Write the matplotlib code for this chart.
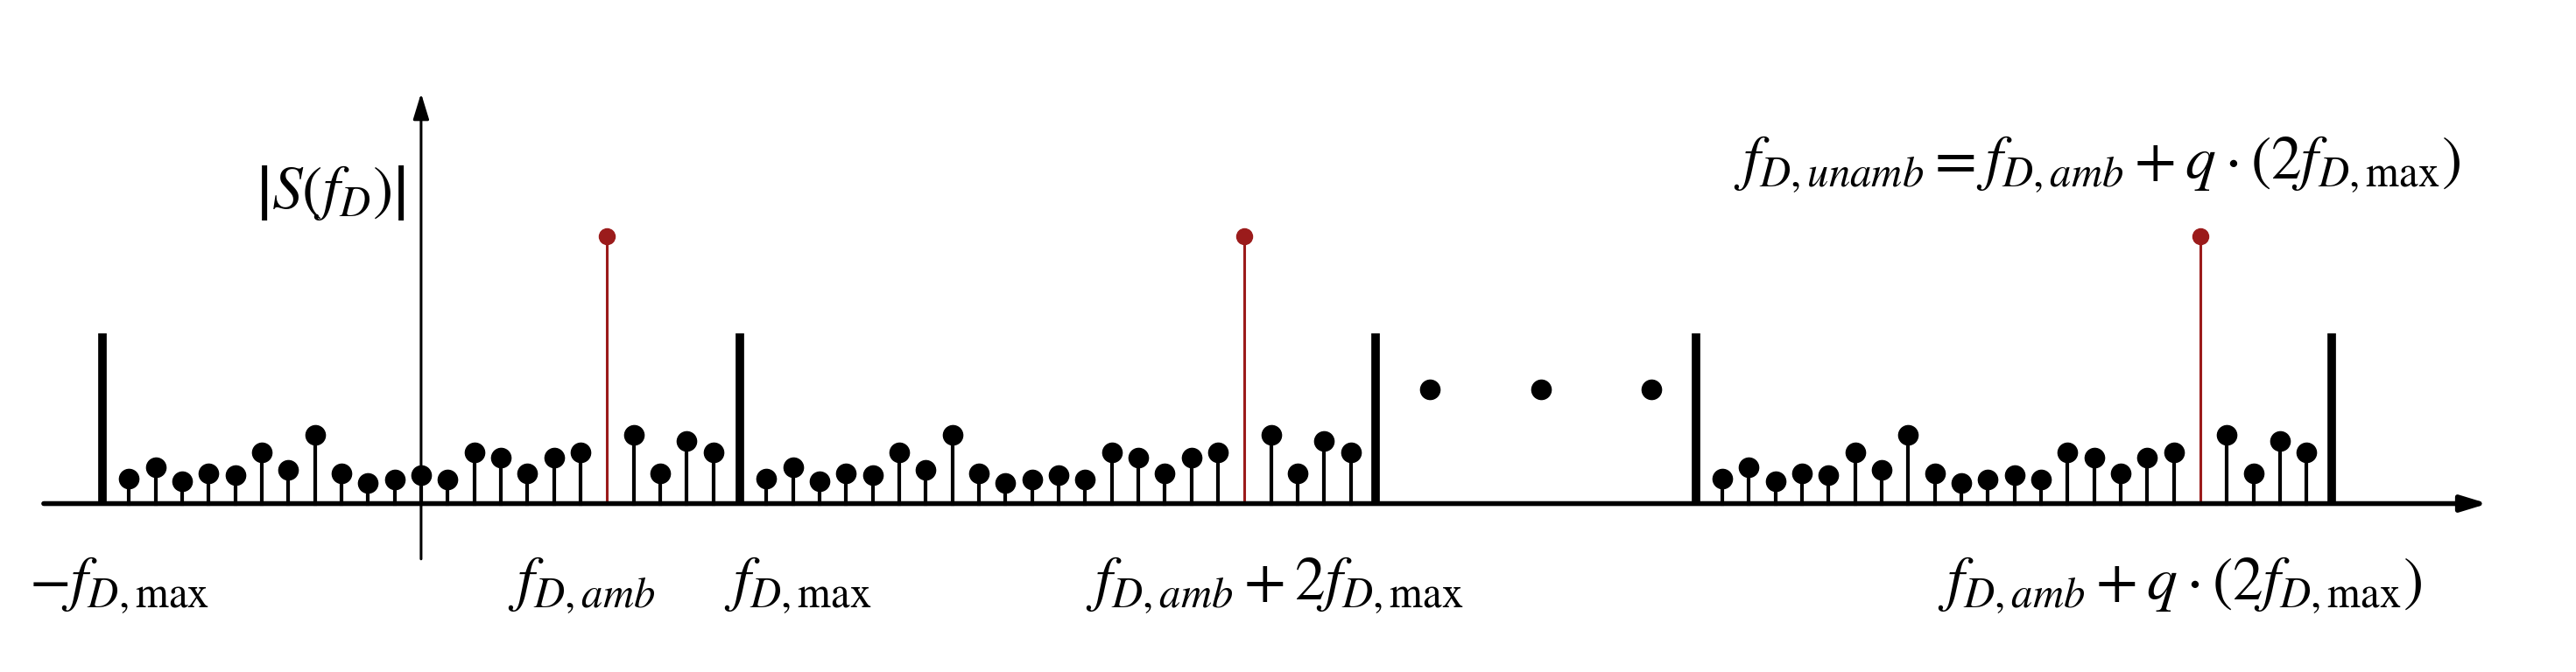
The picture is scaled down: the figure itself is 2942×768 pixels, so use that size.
import matplotlib
matplotlib.use("Agg")
import matplotlib.pyplot as plt

plt.rcParams['mathtext.fontset'] = 'stix'
plt.rcParams['font.family'] = ['DejaVu Serif']

# block boundaries (diagram units) and stem data
block_starts = [62, 448, 1027]
block_width = 386
n_intervals = 24
red_index = 19
small_heights = [85, 125, 77, 103, 97, 175, 115, 233, 103, 70, 83, 97, 83, 175, 157,
                 103, 157, 175, 233, 103, 213, 175]   # relative, bar = 580
bar_rel = 580
bar_height = 103
red_height = 162
dots_x = [866, 933, 1000]
dots_y = 69
extra_bars = [833, 1412]

labels = [(72, r"$-f_{D,\max}$"), (352, r"$f_{D,amb}$"), (483, r"$f_{D,\max}$"),
          (772, r"$f_{D,amb}+2f_{D,\max}$"), (1320, r"$f_{D,amb}+q\cdot\left(2f_{D,\max}\right)$")]

fig = plt.figure(figsize=(29.42, 7.68), dpi=100)
ax = fig.add_axes([0, 0, 1, 1])
ax.set_xlim(0, 1560)
ax.set_ylim(-102, 305)
ax.axis('off')

step = block_width / n_intervals
bars = [s for s in block_starts] + extra_bars
for b in bars:
    ax.plot([b, b], [0, bar_height], color='black', lw=7, solid_capstyle='butt')

for s in block_starts:
    j = 0
    for k in range(1, n_intervals):
        x = s + k * step
        if k == red_index:
            ax.plot([x, x], [0, red_height], color='#9b1b1b', lw=2.2)
            ax.plot(x, red_height, 'o', color='#9b1b1b', ms=13)
        else:
            h = small_heights[j] / bar_rel * bar_height
            j += 1
            ax.plot([x, x], [0, h], color='black', lw=3)
            ax.plot(x, h, 'o', color='black', ms=16)

ax.plot(dots_x, [dots_y] * 3, 'o', color='black', ms=16, ls='none')

# axes arrows
ax.annotate('', xy=(1508, 0), xytext=(25, 0),
            arrowprops=dict(arrowstyle='-|>,head_length=1.8,head_width=0.55', color='black', lw=4))
ax.annotate('', xy=(255, 250), xytext=(255, -35),
            arrowprops=dict(arrowstyle='-|>,head_length=1.8,head_width=0.55', color='black', lw=2.2))

fs = 50
for x, t in labels:
    ax.text(x, -50, t, fontsize=fs, ha='center', va='center')
ax.text(200, 188, r"$\left|S\left(f_D\right)\right|$", fontsize=fs, ha='center', va='center')
ax.text(1270, 205, r"$f_{D,unamb}=f_{D,amb}+q\cdot\left(2f_{D,\max}\right)$", fontsize=fs,
        ha='center', va='center')

fig.savefig('out.png', dpi=100)
